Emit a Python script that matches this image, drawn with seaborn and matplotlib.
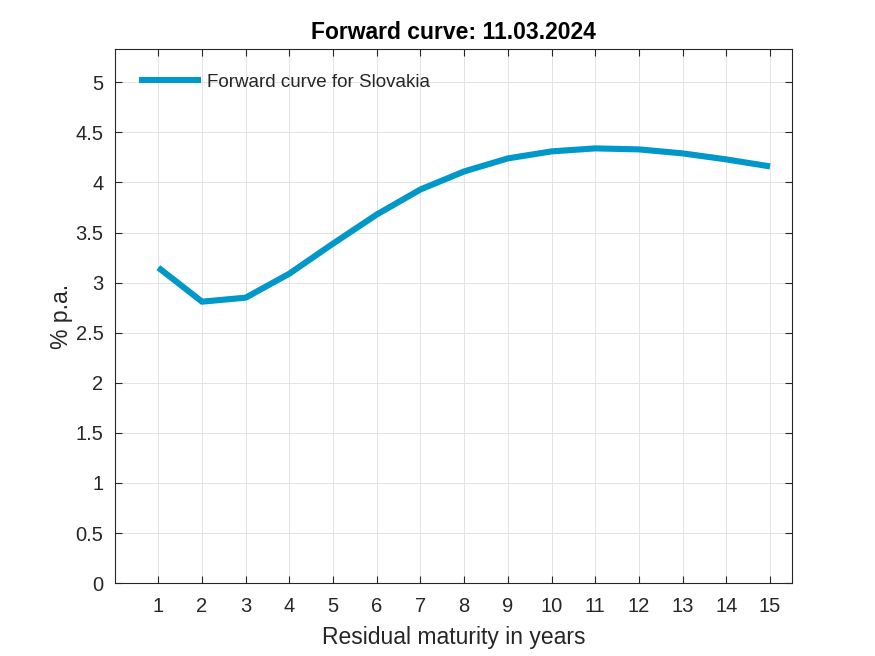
import matplotlib
matplotlib.use("Agg")
import matplotlib.pyplot as plt
import numpy as np
import pandas as pd
import seaborn as sns

# Forward curve values
maturity = [1, 2, 3, 4, 5, 6, 7, 8, 9, 10, 11, 12, 13, 14, 15]
forward_rate = [3.15, 2.81, 2.85, 3.09, 3.39, 3.68, 3.93, 4.11, 4.24, 4.31,
                4.34, 4.33, 4.29, 4.23, 4.16]
y_ticks = [0, 0.5, 1, 1.5, 2, 2.5, 3, 3.5, 4, 4.5, 5]
y_tick_labels = ["0", "0.5", "1", "1.5", "2", "2.5", "3", "3.5", "4", "4.5", "5"]

df = pd.DataFrame({"maturity": maturity, "rate": forward_rate})

sns.set_theme(style="white")
plt.rcParams["font.family"] = ["Liberation Sans", "DejaVu Sans"]
dark = "#262626"

fig = plt.figure(figsize=(8.75, 6.56), dpi=100)
ax = fig.add_axes([0.131, 0.111, 0.774, 0.814])

sns.lineplot(data=df, x="maturity", y="rate", color="#0098c8", linewidth=4.4,
             label="Forward curve for Slovakia", ax=ax, solid_capstyle="butt")

ax.set_xlim(0, 15.5)
ax.set_ylim(0, 5.33)
ax.set_xticks(maturity)
ax.set_xticklabels([str(m) for m in maturity])
ax.set_yticks(y_ticks)
ax.set_yticklabels(y_tick_labels)

ax.grid(True, color="#e3e3e3", linewidth=0.7)
ax.tick_params(direction="in", length=5, width=0.8, colors=dark, labelsize=14.5,
               top=True, right=True, left=True, bottom=True)
ax.tick_params(axis="x", pad=10)
ax.tick_params(axis="y", pad=8)
for s in ax.spines.values():
    s.set_visible(True)
    s.set_color(dark)
    s.set_linewidth(0.8)

ax.set_xlabel("Residual maturity in years", fontsize=16.5, color=dark, labelpad=7)
ax.set_ylabel("% p.a.", fontsize=16.5, color=dark, labelpad=2)
ax.set_title("Forward curve: 11.03.2024", fontsize=16.5, fontweight="bold",
             color="black", pad=7)

leg = ax.legend(loc="upper left", frameon=False, fontsize=13.5, handlelength=3.3,
                handletextpad=0.35, borderaxespad=0.9)
for t in leg.get_texts():
    t.set_color(dark)

fig.savefig("out.png", dpi=100)
